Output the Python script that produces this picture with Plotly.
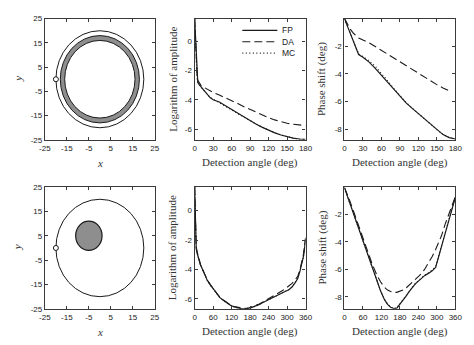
import plotly.graph_objects as go

# ---------------- geometry of the two media ----------------
outer_radius = 20
ring_inner, ring_outer = 16, 18
disk_center = (-5, 5)
disk_radius = 6
source_xy = (-20, 0)

# ---------------- top row: ring medium, 0..180 deg ----------------
ang_top = [0, 1, 2, 3, 4, 5, 7, 10, 15, 20, 25, 30, 40, 50, 60, 70, 80, 90,
           100, 110, 120, 130, 140, 150, 160, 170, 180]
amp_top_fp = [1.5, 0.4, -0.8, -1.9, -2.55, -2.8, -2.95, -3.1, -3.35, -3.6, -3.85, -4.0,
              -4.15, -4.4, -4.65, -4.95, -5.2, -5.45, -5.66, -5.88, -6.08, -6.25, -6.4,
              -6.52, -6.61, -6.67, -6.7]
amp_top_da = [1.5, 0.3, -0.9, -1.9, -2.45, -2.68, -2.85, -3.0, -3.15, -3.28, -3.4, -3.5,
              -3.68, -3.86, -4.05, -4.25, -4.47, -4.67, -4.87, -5.05, -5.22, -5.37, -5.5,
              -5.6, -5.67, -5.72, -5.76]
amp_top_mc = [1.5, 0.35, -0.85, -1.95, -2.6, -2.82, -2.97, -3.12, -3.38, -3.62, -3.83, -3.97,
              -4.2, -4.45, -4.68, -4.95, -5.2, -5.43, -5.65, -5.87, -6.07, -6.24, -6.4,
              -6.53, -6.62, -6.68, -6.71]

ang_top_ph = [0, 5, 10, 15, 20, 23, 30, 40, 50, 60, 70, 80, 90, 100, 110, 120, 130,
              140, 150, 160, 170, 180]
ph_top_fp = [0, -0.58, -1.15, -1.72, -2.3, -2.6, -2.8, -3.15, -3.6, -4.1, -4.6, -5.15,
             -5.65, -6.1, -6.5, -6.88, -7.3, -7.7, -8.05, -8.4, -8.62, -8.72]
ph_top_da = [0, -0.45, -0.8, -1.08, -1.3, -1.4, -1.55, -1.75, -2.02, -2.3, -2.58, -2.86,
             -3.14, -3.42, -3.7, -3.98, -4.26, -4.52, -4.78, -5.02, -5.23, None]
ph_top_mc = [0, -0.55, -1.1, -1.68, -2.25, -2.55, -2.75, -3.05, -3.45, -3.95, -4.5, -5.05,
             -5.6, -6.07, -6.48, -6.87, -7.28, -7.68, -8.04, -8.38, -8.6, -8.71]

# ---------------- bottom row: off-centre disk, 0..360 deg ----------------
ang_bot = [0, 1, 2, 3, 5, 8, 12, 19, 30, 40, 51, 60, 72, 82, 93, 105, 115, 125, 136, 146,
           157, 168, 178, 188, 200, 210, 220, 231, 242, 252, 263, 274, 284, 295, 306, 316,
           326, 335, 342, 348, 353, 356, 358, 360]
amp_bot_fp = [1.6, 0.2, -1.2, -2.1, -2.6, -2.9, -3.2, -3.7, -4.2, -4.7, -5.05, -5.32, -5.7,
              -5.92, -6.1, -6.3, -6.42, -6.52, -6.6, -6.65, -6.68, -6.68, -6.63, -6.56,
              -6.48, -6.38, -6.26, -6.14, -6.03, -5.92, -5.8, -5.68, -5.58, -5.48, -5.38,
              -5.2, -4.92, -4.6, -4.1, -3.6, -3.15, -2.7, -2.3, -1.95]
amp_bot_da = [1.6, 0.1, -1.4, -2.0, -2.45, -2.8, -3.15, -3.68, -4.2, -4.68, -5.05, -5.3,
              -5.68, -5.9, -6.08, -6.28, -6.4, -6.5, -6.57, -6.6, -6.63, -6.66, -6.6, -6.52,
              -6.46, -6.35, -6.23, -6.1, -5.98, -5.86, -5.74, -5.6, -5.45, -5.3, -5.12,
              -4.95, -4.72, -4.45, -4.0, -3.5, -3.0, -2.5, -2.15, -1.85]
amp_bot_mc = [1.6, 0.25, -1.15, -2.05, -2.58, -2.88, -3.2, -3.7, -4.22, -4.72, -5.07, -5.34,
              -5.71, -5.93, -6.11, -6.31, -6.43, -6.53, -6.61, -6.66, -6.69, -6.69, -6.64,
              -6.57, -6.49, -6.39, -6.27, -6.15, -6.04, -5.93, -5.81, -5.69, -5.59, -5.49,
              -5.37, -5.18, -4.9, -4.58, -4.08, -3.58, -3.12, -2.68, -2.28, -1.93]

ang_bot_ph = [0, 15, 30, 45, 60, 75, 90, 105, 117, 130, 140, 150, 160, 170, 180, 190, 200,
              210, 220, 230, 240, 250, 260, 275, 285, 296, 305, 315, 327, 340, 350, 360]
ph_bot_fp = [-0.05, -1.0, -2.0, -2.95, -3.95, -4.9, -5.9, -6.8, -7.55, -8.2, -8.55, -8.75,
             -8.85, -8.82, -8.55, -8.25, -7.95, -7.62, -7.3, -7.05, -6.85, -6.65, -6.45,
             -6.25, -6.1, -5.85, -5.15, -4.35, -3.4, -2.35, -1.55, -0.75]
ph_bot_da = [-0.05, -0.85, -1.8, -2.75, -3.75, -4.7, -5.6, -6.4, -6.9, -7.3, -7.5, -7.6,
             -7.67, -7.67, -7.6, -7.5, -7.35, -7.15, -6.95, -6.75, -6.55, -6.3, -6.0,
             -5.45, -5.05, -4.55, -4.1, -3.55, -2.7, -1.85, -1.2, -0.7]
ph_bot_mc = [-0.05, -0.98, -1.97, -2.92, -3.92, -4.88, -5.88, -6.78, -7.53, -8.18, -8.53,
             -8.74, -8.84, -8.8, -8.53, -8.22, -7.92, -7.6, -7.28, -7.02, -6.82, -6.62,
             -6.42, -6.22, -6.05, -5.8, -5.1, -4.3, -3.35, -2.3, -1.5, -0.72]

# ---------------- tick labels ----------------
xy_ticks = [-25, -15, -5, 5, 15, 25]
xy_ticktext = ["-25", "-15", "-5", "5", "15", "25"]
top_angle_ticks = [0, 30, 60, 90, 120, 150, 180]
bot_angle_ticks = [0, 60, 120, 180, 240, 300, 360]
amp_ticks = [-6, -4, -2, 0]
amp_ticktext = ["-6", "-4", "-2", "0"]
ph_ticks = [-8, -6, -4, -2]
ph_ticktext = ["-8", "-6", "-4", "-2"]

legend_names = ["FP", "DA", "MC"]

W, H = 474, 345
INK = "#1a1a1a"
FRAME = "#3a3a3a"
GRAY = "#8e8e8e"
SERIF = "Liberation Serif"
SANS = "Liberation Sans"

styles = {
    "FP": dict(color=INK, width=1.2, dash="solid"),
    "DA": dict(color=INK, width=1.1, dash="8px,4px"),
    "MC": dict(color=INK, width=1.1, dash="1px,2.5px"),
}

col_dom = [[40 / W, 153 / W], [194 / W, 308 / W], [348 / W, 462 / W]]
row_dom = [[1 - 139.5 / H, 1 - 15 / H], [1 - 313 / H, 1 - 188 / H]]

fig = go.Figure()


def add_curves(ax, x, fp, da, mc):
    for name, ys in (("MC", mc), ("DA", da), ("FP", fp)):
        fig.add_trace(go.Scatter(x=x, y=ys, mode="lines", name=name,
                                 line=styles[name], xaxis="x" + ax, yaxis="y" + ax,
                                 showlegend=False, connectgaps=False))


add_curves("2", ang_top, amp_top_fp, amp_top_da, amp_top_mc)
add_curves("3", ang_top_ph, ph_top_fp, ph_top_da, ph_top_mc)
add_curves("5", ang_bot, amp_bot_fp, amp_bot_da, amp_bot_mc)
add_curves("6", ang_bot_ph, ph_bot_fp, ph_bot_da, ph_bot_mc)

# source position in both geometry panels
for ax in ("", "4"):
    fig.add_trace(go.Scatter(x=[source_xy[0]], y=[source_xy[1]], mode="markers",
                             marker=dict(size=5, color="white", line=dict(color=INK, width=1)),
                             xaxis="x" + ax, yaxis="y" + ax, showlegend=False))

shapes = []


def circle(ax, cx, cy, r, fill=None, width=1.0):
    shapes.append(dict(type="circle", xref="x" + ax, yref="y" + ax,
                       x0=cx - r, x1=cx + r, y0=cy - r, y1=cy + r,
                       line=dict(color=INK, width=width),
                       fillcolor=fill if fill else "rgba(0,0,0,0)", layer="below"))


# ring medium
circle("", 0, 0, ring_outer, fill=GRAY)
circle("", 0, 0, ring_inner, fill="white")
circle("", 0, 0, outer_radius)
# disk medium
circle("4", 0, 0, outer_radius)
circle("4", disk_center[0], disk_center[1], disk_radius, fill=GRAY, width=1.2)

# legend drawn inside the upper amplitude panel
annotations = []
for i, name in enumerate(legend_names):
    yy = 1 - (27 + 11.7 * i) / H
    st = styles[name]
    shapes.append(dict(type="line", xref="paper", yref="paper",
                       x0=243 / W, x1=279 / W, y0=yy, y1=yy,
                       line=dict(color=st["color"], width=st["width"], dash=st["dash"])))
    annotations.append(dict(x=281.5 / W, y=yy, xref="paper", yref="paper", text=name,
                            showarrow=False, xanchor="left", yanchor="middle",
                            font=dict(family=SANS, size=8.5, color=INK)))


def label(text, px, py, angle=0, italic=False, size=11):
    t = "<i>%s</i>" % text if italic else text
    annotations.append(dict(x=px / W, y=1 - py / H, xref="paper", yref="paper", text=t,
                            showarrow=False, textangle=angle, xanchor="center",
                            yanchor="middle", font=dict(family=SERIF, size=size, color="#333")))


for top in (163, 336.5):
    label("x", 97, top, italic=True)
    label("Detection angle (deg)", 251, top)
    label("Detection angle (deg)", 405, top)
for mid in (77, 250):
    label("y", 12, mid, angle=-90, italic=True)
    label("Logarithm of amplitude", 171.5, mid, angle=-90)
    label("Phase shift (deg)", 325, mid, angle=-90)

axis_common = dict(showline=True, mirror="allticks", linecolor=FRAME, linewidth=1.2,
                   ticks="inside", ticklen=3, tickwidth=0.8, tickcolor=FRAME,
                   showgrid=False, zeroline=False, fixedrange=True,
                   tickfont=dict(family=SANS, size=8, color="#222"))

layout = dict(width=W, height=H, margin=dict(l=0, r=0, t=0, b=0),
              paper_bgcolor="white", plot_bgcolor="white", showlegend=False,
              shapes=shapes, annotations=annotations)

panels = [
    # (suffix, column, row, x settings, y settings)
    ("", 0, 0, dict(range=[-25, 25], tickvals=xy_ticks, ticktext=xy_ticktext),
     dict(range=[-25, 25], tickvals=xy_ticks, ticktext=xy_ticktext)),
    ("2", 1, 0, dict(range=[0, 180], tickvals=top_angle_ticks),
     dict(range=[-6.73, 1.53], tickvals=amp_ticks, ticktext=amp_ticktext)),
    ("3", 2, 0, dict(range=[0, 180], tickvals=top_angle_ticks),
     dict(range=[-8.78, 0], tickvals=ph_ticks, ticktext=ph_ticktext)),
    ("4", 0, 1, dict(range=[-25, 25], tickvals=xy_ticks, ticktext=xy_ticktext),
     dict(range=[-25, 25], tickvals=xy_ticks, ticktext=xy_ticktext)),
    ("5", 1, 1, dict(range=[0, 360], tickvals=bot_angle_ticks),
     dict(range=[-6.68, 1.6], tickvals=amp_ticks, ticktext=amp_ticktext)),
    ("6", 2, 1, dict(range=[0, 360], tickvals=bot_angle_ticks),
     dict(range=[-8.87, 0], tickvals=ph_ticks, ticktext=ph_ticktext)),
]
for suf, c, r, xs, ys in panels:
    layout["xaxis" + suf] = dict(axis_common, domain=col_dom[c], anchor="y" + suf, **xs)
    layout["yaxis" + suf] = dict(axis_common, domain=row_dom[r], anchor="x" + suf, **ys)

fig.update_layout(**layout)
fig.write_html("out.html")
